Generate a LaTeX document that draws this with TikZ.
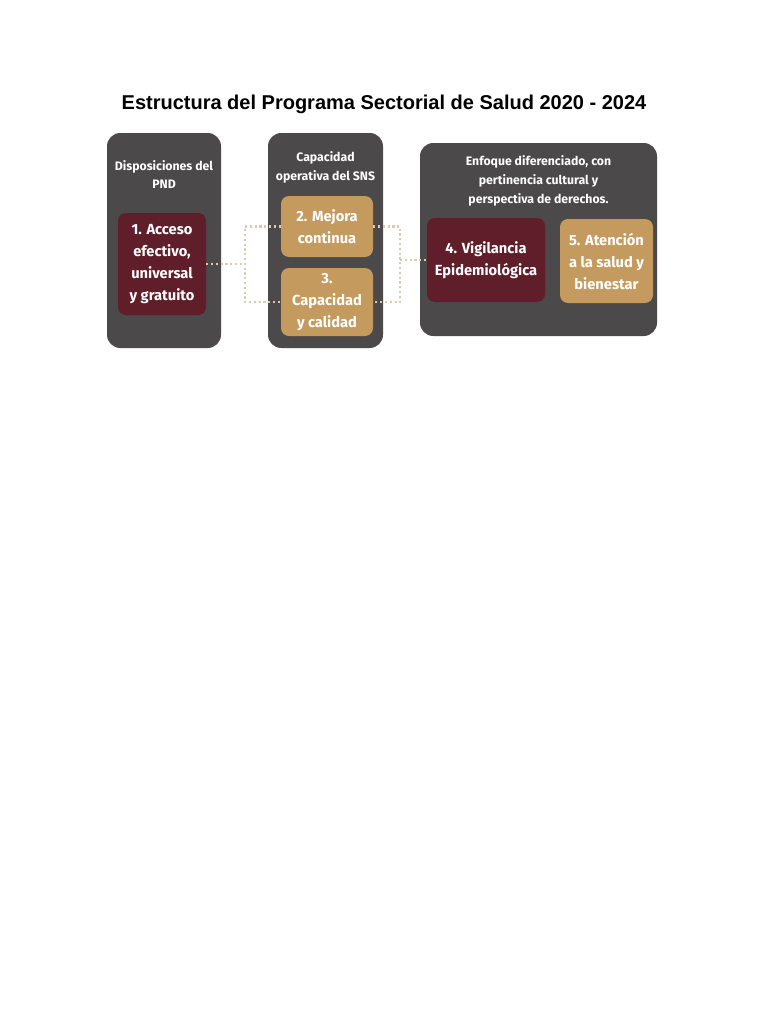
\documentclass[tikz,border=0pt]{standalone}
\usepackage{fontspec}
\setmainfont{Liberation Sans}
\newfontfamily\cajafont{Fira Sans}
\definecolor{grispanel}{HTML}{4B4949}
\definecolor{vino}{HTML}{5F1E2A}
\definecolor{ocre}{HTML}{C49A5F}
\definecolor{puntos}{HTML}{D9CBB0}
\definecolor{azulpunto}{HTML}{3A4A6A}
\tikzset{
  panel/.style={fill=grispanel, rounded corners=10pt, inner sep=0pt},
  caja/.style={rounded corners=6pt, inner sep=0pt, text=white, align=center,
    font=\cajafont\bfseries\fontsize{11}{16.5}\selectfont},
  vinobox/.style={caja, fill=vino},
  ocrebox/.style={caja, fill=ocre},
  encabezado/.style={text=white, align=center, font=\cajafont\bfseries\fontsize{9.2}{14}\selectfont},
  liga/.style={puntos, line width=1.6pt, dotted}
}

\begin{document}
\begin{tikzpicture}[x=0.75pt, y=-0.75pt]
\fill[white] (0,0) rectangle (768,1024);
\useasboundingbox (0,0) rectangle (768,1024);

\node (titulo) at (384,104) {\bfseries\fontsize{15}{18}\selectfont Estructura del Programa Sectorial de Salud 2020 - 2024};

\node (pnd) [panel, minimum width=85.5pt, minimum height=161.25pt] at (164,240.5) {};
\node (sns) [panel, minimum width=86.25pt, minimum height=161.25pt] at (325.5,240.5) {};
\node (enfoque) [panel, minimum width=177.75pt, minimum height=144.75pt] at (538.5,239.5) {};

\node (tpnd) [encabezado] at (164,174.5) {Disposiciones del\\PND};
\node (tsns) [encabezado] at (325.5,167.5) {Capacidad\\operativa del SNS};
\node (tenfoque) [encabezado] at (538.5,181) {Enfoque diferenciado, con\\pertinencia cultural y\\perspectiva de derechos.};

\node (acceso) [vinobox, minimum width=66pt, minimum height=76.5pt] at (162,264) {1. Acceso\\efectivo,\\universal\\y gratuito};
\node (mejora) [ocrebox, minimum width=69pt, minimum height=45.75pt] at (327,226.5) {2. Mejora\\continua};
\node (capacidad) [ocrebox, minimum width=69pt, minimum height=51pt] at (327,302) {3.\\Capacidad\\y calidad};
\node (vigilancia) [vinobox, minimum width=88.5pt, minimum height=63pt] at (486,260) {4. Vigilancia\\Epidemiológica};
\node (atencion) [ocrebox, minimum width=69.75pt, minimum height=63pt] at (606.5,261) {5. Atención\\a la salud y\\bienestar};

\coordinate (llaveizq) at (245,264);
\coordinate (llaveder) at (400,260);
\draw[liga] (acceso.east) -- (llaveizq);
\draw[liga] (mejora.west) -| (llaveizq) |- (capacidad.west);
\draw[liga] (mejora.east) -| (llaveder) |- (capacidad.east);
\draw[liga] (llaveder) -- (vigilancia.west);
\draw[azulpunto, line width=1.6pt, dotted] (vigilancia.east) -- (atencion.west);
\end{tikzpicture}
\end{document}
